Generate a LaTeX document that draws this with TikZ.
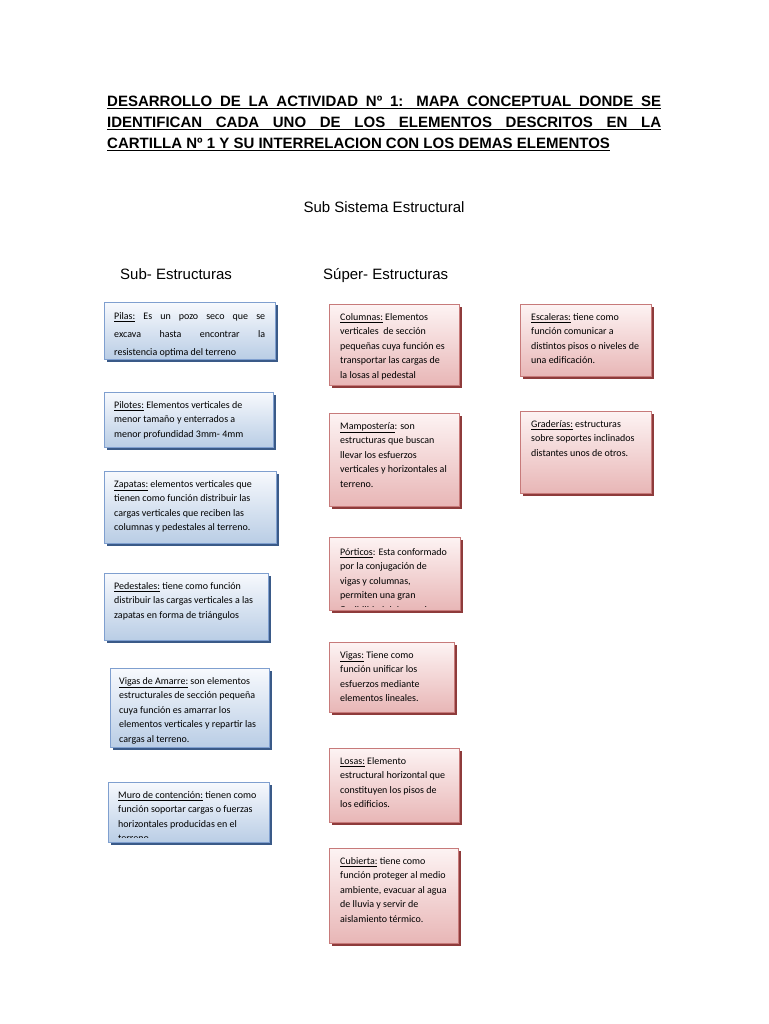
\documentclass[tikz,border=0pt]{standalone}
\usepackage{fontspec}
\setmainfont{Carlito}
\newfontfamily\arialfont{Liberation Sans}
\usetikzlibrary{shadows}
\definecolor{bborder}{HTML}{7F9FCF}
\definecolor{btop}{HTML}{F7F9FD}
\definecolor{bbot}{HTML}{B9CDE5}
\definecolor{bshadow}{HTML}{3A5A88}
\definecolor{pborder}{HTML}{C77A7A}
\definecolor{ptop}{HTML}{FDF3F3}
\definecolor{pbot}{HTML}{E8B6B6}
\definecolor{pshadow}{HTML}{8E3B3B}
\tikzset{
  bluebox/.style={draw=bborder, line width=0.8pt, top color=btop, bottom color=bbot,
    drop shadow={shadow xshift=2.5pt, shadow yshift=-2.5pt, fill=bshadow, opacity=1},
    inner sep=0pt, anchor=north west},
  pinkbox/.style={draw=pborder, line width=0.8pt, top color=ptop, bottom color=pbot,
    drop shadow={shadow xshift=2.5pt, shadow yshift=-2.5pt, fill=pshadow, opacity=1},
    inner sep=0pt, anchor=north west},
  boxtext/.style={anchor=north west, inner sep=0pt, align=left,
    font=\fontsize{10}{14.5}\selectfont, text=black},
  widetext/.style={font=\fontsize{10}{18}\selectfont},
  lowertext/.style={yshift=-2pt},
  titletext/.style={anchor=base west, inner sep=0pt,
    font=\arialfont\bfseries\fontsize{15}{21}\selectfont},
  headtext/.style={inner sep=0pt, font=\arialfont\fontsize{15}{18}\selectfont},
}
\newcommand\myclipinset{0}
\newcommand\conceptbox[9]{%
  \node[#2, minimum width={#5pt-#3pt}, minimum height={#6pt-#4pt}] (#1) at (#3,#4) {};
  \begin{scope}
    \clip (#1.north west) rectangle ([yshift=\myclipinset pt]#1.south east);
    \node[boxtext, #9] (#1-t) at ([xshift=#7pt, yshift=-6pt]#1.north west) {\strut #8};
  \end{scope}%
}
\begin{document}
\begin{tikzpicture}[x=1pt, y=-1pt]
\useasboundingbox[fill=white] (0,0) rectangle (768,1024);

% title
\node[titletext] (t1) at (107,107) {\underline{\makebox[554pt][s]{DESARROLLO DE LA ACTIVIDAD Nº 1: MAPA CONCEPTUAL DONDE SE}}};
\node[titletext] (t2) at (107,128) {\underline{\makebox[554pt][s]{IDENTIFICAN CADA UNO DE LOS ELEMENTOS DESCRITOS EN LA}}};
\node[titletext] (t3) at (107,149) {\underline{CARTILLA Nº 1 Y SU INTERRELACION CON LOS DEMAS ELEMENTOS}};

\node[headtext, anchor=base] (sub) at (384,213) {Sub Sistema Estructural};
\node[headtext, anchor=base west] (subest) at (120,279) {Sub- Estructuras};
\node[headtext, anchor=base west] (supest) at (323,279) {Súper- Estructuras};

% left column
\conceptbox{pilas}{bluebox}{104}{302}{275}{359}{10}{%
  \makebox[151pt][s]{\underline{Pilas:} Es un pozo seco que se}\\
  \makebox[151pt][s]{excava hasta encontrar la}\\
  resistencia optima del terreno}{widetext, yshift=1pt}
\conceptbox{pilotes}{bluebox}{104}{392}{273}{447}{10}{\underline{Pilotes:} Elementos verticales de\\
  menor tamaño y enterrados a\\ menor profundidad 3mm- 4mm}{}
\conceptbox{zapatas}{bluebox}{104}{471}{276}{543}{10}{\underline{Zapatas:} elementos verticales que\\
  tienen como función distribuir las\\ cargas verticales que reciben las\\ columnas y pedestales al terreno.}{}
\conceptbox{pedestales}{bluebox}{104}{573}{268}{640}{10}{\underline{Pedestales:} tiene como función\\
  distribuir las cargas verticales a las\\ zapatas en forma de triángulos}{}
\conceptbox{amarre}{bluebox}{110}{668}{269}{747}{9}{\underline{Vigas de Amarre:} son elementos\\
  estructurales de sección pequeña\\ cuya función es amarrar los\\ elementos verticales y repartir las\\ cargas al terreno.}{}
\renewcommand\myclipinset{5}
\conceptbox{muro}{bluebox}{108}{782}{269}{842}{10}{\underline{Muro de contención:} tienen como\\
  función soportar cargas o fuerzas\\ horizontales producidas en el\\ terreno}{}
\renewcommand\myclipinset{0}

% middle column
\conceptbox{columnas}{pinkbox}{329}{304}{459}{385}{11}{\underline{Columnas:} Elementos\\
  verticales\ \ de sección\\ pequeñas cuya función es\\ transportar las cargas de\\ la losas al pedestal}{}
\conceptbox{mamposteria}{pinkbox}{329}{413}{459}{506}{11}{\underline{Mampostería}: son\\
  estructuras que buscan\\ llevar los esfuerzos\\ verticales y horizontales al\\ terreno.}{}
\renewcommand\myclipinset{4}
\conceptbox{porticos}{pinkbox}{329}{537}{460}{610}{11}{\underline{Pórticos}: Esta conformado\\
  por la conjugación de\\ vigas y columnas,\\ permiten una gran\\ flexibilidad del espacio}{lowertext}
\renewcommand\myclipinset{0}
\conceptbox{vigas}{pinkbox}{329}{642}{454}{712}{11}{\underline{Vigas:} Tiene como\\
  función unificar los\\ esfuerzos mediante\\ elementos lineales.}{}
\conceptbox{losas}{pinkbox}{329}{748}{459}{822}{11}{\underline{Losas:} Elemento\\
  estructural horizontal que\\ constituyen los pisos de\\ los edificios.}{}
\conceptbox{cubierta}{pinkbox}{329}{848}{458}{943}{11}{\underline{Cubierta:} tiene como\\
  función proteger al medio\\ ambiente, evacuar al agua\\ de lluvia y servir de\\ aislamiento térmico.}{}

% right column
\conceptbox{escaleras}{pinkbox}{520}{304}{651}{376}{11}{\underline{Escaleras:} tiene como\\
  función comunicar a\\ distintos pisos o niveles de\\ una edificación.}{}
\conceptbox{graderias}{pinkbox}{520}{411}{651}{493}{11}{\underline{Graderías:} estructuras\\
  sobre soportes inclinados\\ distantes unos de otros.}{}
\end{tikzpicture}
\end{document}
